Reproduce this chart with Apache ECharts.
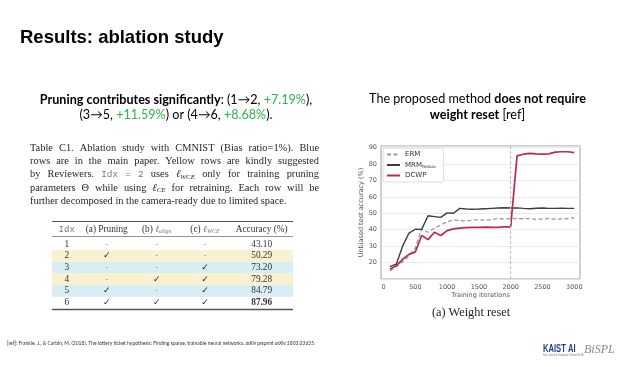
<!DOCTYPE html>
<html><head><meta charset="utf-8">
<script src="https://cdn.jsdelivr.net/npm/echarts@6/dist/echarts.min.js"></script>
<style>html,body{margin:0;padding:0;background:#fff}#c{width:638px;height:367px}</style>
</head><body><div id="c"></div>
<script>
// ---------- data ----------
const iterations = [100,200,300,400,500,600,700,800,900,1000,1100,1200,1300,1400,1500,1600,1700,1800,1900,2000,2100,2200,2300,2400,2500,2600,2700,2800,2900,3000];
const ermValues  = [15,17.5,20.5,24,29,40.5,38.5,41,43,44.8,46,45.5,45.3,46,46,45.8,46.2,46.8,46.5,46.8,46.8,46.7,46.8,46.3,46.5,46.8,46.4,46.6,46.8,47.3];
const mrmValues  = [17.5,19,30,38,40.3,40.2,48.5,48,47.5,50.3,50,53,52.6,52.5,52.6,52.8,53,53.2,53.4,53.2,53.3,53,52.8,53.1,53.2,53,53,53.1,53,53];
const dcwpValues = [16,18,22,25,26.5,36.5,34,38.5,36.5,39.5,40.5,41,41.3,41.4,41.5,41.6,41.4,41.5,41.7,41.8,85,86,86.5,86.2,86.1,86.2,87.3,87.5,87.5,87];
const seriesNames = ['ERM','MRM_Debias','DCWP'];
const xTickValues = [0,500,1000,1500,2000,2500,3000];
const yTickValues = [20,30,40,50,60,70,80,90];
const resetIteration = 2000;

const tableHeader   = ['Idx','(a) Pruning','(b) {it|ℓ}{sub|align}','(c) {it|ℓ}{sub|WCE}','Accuracy (%)'];
const tableIdx      = ['1','2','3','4','5','6'];
const tablePruning  = ['-','✓','-','-','✓','✓'];
const tableAlign    = ['-','-','-','✓','-','✓'];
const tableWce      = ['-','-','✓','✓','✓','✓'];
const tableAccuracy = ['43.10','50.29','73.20','79.28','84.79','87.96'];
const rowKinds      = ['none','yellow','blue','yellow','blue','none'];

const captionLines = [
  'Table C1. Ablation study with CMNIST (Bias ratio=1%). Blue',
  'rows are in the main paper. Yellow rows are kindly suggested',
  'by Reviewers. `Idx` `=` `2` uses ℓ_{WCE} only for training pruning',
  'parameters Θ while using ℓ_{CE} for retraining. Each row will be',
  'further decomposed in the camera-ready due to limited space.'
];

// ---------- helpers ----------
const chart = echarts.init(document.getElementById('c'));
const mctx = document.createElement('canvas').getContext('2d');
function fontOf(s){ return (s.fontStyle||'normal')+' '+(s.fontWeight||'normal')+' '+s.fontSize+'px '+s.fontFamily; }
function measure(t,s){ mctx.font = fontOf(s); return mctx.measureText(t).width; }
const capStyles = {
  rm:{fontSize:10.4, fontFamily:'"Liberation Serif"', fill:'#262626'},
  tt:{fontSize:9.4, fontFamily:'"Liberation Mono"', fill:'#7a7a7a'},
  it:{fontSize:10.4, fontFamily:'"Liberation Serif"', fontStyle:'italic', fill:'#262626'},
  sub:{fontSize:7, fontFamily:'"Liberation Serif"', fontStyle:'italic', fill:'#262626', dy:2.5}
};
function parseWord(w){
  if (w.startsWith('`')) return [{t:w.slice(1,-1), s:'tt'}];
  const m = w.match(/^(.*?)ℓ_\{(.+?)\}(.*)$/);
  if (m){ const p=[]; if(m[1])p.push({t:m[1],s:'rm'}); p.push({t:'ℓ',s:'it'}); p.push({t:m[2],s:'sub'}); if(m[3])p.push({t:m[3],s:'rm'}); return p; }
  return [{t:w,s:'rm'}];
}
const graphics = [];
function txt(x,y,text,style,extra){ graphics.push(Object.assign({type:'text', x:x, y:y, silent:true, style:Object.assign({text:text, verticalAlign:'middle'}, style)}, extra||{})); }

// title & headings
txt(20,38,'Results: ablation study',{fontSize:18.5,fontWeight:'bold',fontFamily:'"Liberation Sans"',fill:'#000'});
const HF = 12.6;
const headRich = {b:{fontWeight:'bold',fontSize:HF,fontFamily:'Lato',fill:'#000'}, g:{fontSize:HF,fontFamily:'Lato',fill:'#2db34f'}};
txt(176,100,'{b|Pruning contributes significantly}: (1→2, {g|+7.19%}),',{fontSize:HF,fontFamily:'Lato',fill:'#000',align:'center',rich:headRich});
txt(176,115,'(3→5, {g|+11.59%}) or (4→6, {g|+8.68%}).',{fontSize:HF,fontFamily:'Lato',fill:'#000',align:'center',rich:headRich});
txt(477.5,99,'The proposed method {b|does not require}',{fontSize:HF,fontFamily:'Lato',fill:'#000',align:'center',rich:headRich});
txt(477.5,114.5,'{b|weight reset} [ref]',{fontSize:HF,fontFamily:'Lato',fill:'#000',align:'center',rich:headRich});

// caption (justified)
const capX0 = 30, capW = 289, capY0 = 148.3, capStep = 13.2;
captionLines.forEach((line,li)=>{
  const words = line.split(/\s+/).map(parseWord);
  const widths = words.map(ps=>ps.reduce((a,p)=>a+measure(p.t,capStyles[p.s]),0));
  const sum = widths.reduce((a,b)=>a+b,0);
  const last = li===captionLines.length-1;
  const gap = last ? measure(' ',capStyles.rm) : (capW-sum)/(words.length-1);
  let x = capX0; const y = capY0 + li*capStep;
  words.forEach((ps,wi)=>{
    ps.forEach(p=>{
      const s = capStyles[p.s];
      txt(x, y+(s.dy||0), p.t, {fontSize:s.fontSize,fontFamily:s.fontFamily,fontStyle:s.fontStyle||'normal',fill:s.fill});
      x += measure(p.t,s);
    });
    x += gap;
  });
});

// table
const tX0 = 52, tX1 = 293, rowTop0 = 238.3, rowH = 11.7;
const colX = [66.7,106.7,156.7,205,261.7];
const bandColor = {yellow:'#fcf1cf', blue:'#d8edf4'};
tableIdx.forEach((v,i)=>{
  if (rowKinds[i]!=='none') graphics.push({type:'rect', silent:true, shape:{x:tX0,y:rowTop0+i*rowH,width:tX1-tX0,height:rowH}, style:{fill:bandColor[rowKinds[i]]}});
});
graphics.push({type:'line',silent:true,shape:{x1:tX0,y1:221.5,x2:tX1,y2:221.5},style:{stroke:'#555',lineWidth:1.2}});
graphics.push({type:'line',silent:true,shape:{x1:tX0,y1:236.5,x2:tX1,y2:236.5},style:{stroke:'#777',lineWidth:0.8}});
graphics.push({type:'line',silent:true,shape:{x1:tX0,y1:309.5,x2:tX1,y2:309.5},style:{stroke:'#555',lineWidth:1.5}});
const tRich = {it:{fontStyle:'italic',fontSize:9.5,fontFamily:'"Liberation Serif"',fill:'#777'}, sub:{fontStyle:'italic',fontSize:6,fontFamily:'"Liberation Serif"',fill:'#777',verticalAlign:'bottom',padding:[3,0,0,0]}};
tableHeader.forEach((h,ci)=>{
  if (ci===0) txt(colX[0],229.5,h,{fontSize:9,fontFamily:'"Liberation Mono"',fill:'#777',align:'center'});
  else txt(colX[ci],229.5,h,{fontSize:9.3,fontFamily:'"Liberation Serif"',fill:'#333',align:'center',rich:tRich});
});
const cellStyle = (t)=> t==='✓' ? {fontSize:9,fontFamily:'"DejaVu Sans"',fontWeight:'bold',fill:'#222',align:'center'} : (t==='-' ? {fontSize:9,fontFamily:'"Liberation Serif"',fill:'#999',align:'center'} : {fontSize:9.3,fontFamily:'"Liberation Serif"',fill:'#333',align:'center'});
tableIdx.forEach((v,i)=>{
  const y = rowTop0 + i*rowH + rowH/2;
  txt(colX[0],y,v,cellStyle(v));
  txt(colX[1],y,tablePruning[i],cellStyle(tablePruning[i]));
  txt(colX[2],y,tableAlign[i],cellStyle(tableAlign[i]));
  txt(colX[3],y,tableWce[i],cellStyle(tableWce[i]));
  const st = cellStyle(tableAccuracy[i]); if (i===tableIdx.length-1) st.fontWeight='bold';
  txt(colX[4],y,tableAccuracy[i],st);
});

// chart caption, footnote, logos
txt(471,312.7,'(a) Weight reset',{fontSize:12.3,fontFamily:'"Liberation Serif"',fill:'#222',align:'center'});
txt(7,343,'[ref]: Frankle, J., & Carbin, M. (2018). The lottery ticket hypothesis: Finding sparse, trainable neural networks. {i|arXiv preprint arXiv:1803.03635}.',
  {fontSize:5,fontFamily:'Lato',fill:'#333',rich:{i:{fontStyle:'italic',fontSize:5,fontFamily:'Lato',fill:'#333'}}});
txt(543,349,'KAIST AI',{fontSize:10,fontWeight:'bold',fontFamily:'"Liberation Sans"',fill:'#1d3c8c'},{scaleX:0.76});
txt(543,355.5,'Kim Jaechul Graduate School of AI',{fontSize:2.6,fontFamily:'"Liberation Sans"',fill:'#777'});
txt(584,349.5,'BiSPL',{fontSize:12,fontStyle:'italic',fontFamily:'"Liberation Serif"',fill:'#8a8a8a'});

// ---------- chart ----------
const pairs = v => iterations.map((x,i)=>[x,v[i]]);
const axisFont = {fontSize:6.5, color:'#555', fontFamily:'"DejaVu Sans"'};
chart.setOption({
  animation:false,
  grid:{left:381, top:146, right:58, bottom:88, show:true, borderColor:'#a0a0a0', borderWidth:1, backgroundColor:'#fff'},
  xAxis:{type:'value', min:-40, max:3090,
    name:'Training iterations', nameLocation:'middle', nameGap:13, nameTextStyle:axisFont,
    axisLine:{show:false}, axisTick:{show:false, customValues:xTickValues},
    axisLabel:Object.assign({customValues:xTickValues, margin:5, formatter:v=>String(v)}, axisFont), splitLine:{show:false}},
  yAxis:{type:'value', min:10, max:91, interval:10,
    name:'Unbiased test accuracy (%)', nameLocation:'middle', nameRotate:90, nameGap:15, nameTextStyle:axisFont,
    axisLine:{show:false}, axisTick:{show:false},
    axisLabel:Object.assign({margin:4, showMinLabel:false, showMaxLabel:false, formatter:v=>String(v)}, axisFont),
    splitLine:{show:true, lineStyle:{color:'#e6e6e6', width:0.8}}},
  legend:{orient:'vertical', left:383, top:148, itemWidth:13, itemHeight:6, itemGap:3.5,
    padding:[3,8,3,3], borderColor:'#dcdcdc', borderWidth:1, borderRadius:2, backgroundColor:'#fff',
    data:seriesNames, itemStyle:{opacity:0, borderWidth:0},
    textStyle:{fontSize:7, color:'#333', fontFamily:'"DejaVu Sans"',
      rich:{m:{fontSize:7,color:'#333',fontFamily:'"DejaVu Sans"'}, s:{fontSize:4,color:'#333',fontFamily:'"DejaVu Sans"',verticalAlign:'bottom',padding:[3,0,0,0]}}},
    formatter:n=> n==='MRM_Debias' ? '{m|MRM}{s|Debias}' : n},
  series:[
    {name:seriesNames[0], type:'line', data:pairs(ermValues), symbol:'none', z:2,
      lineStyle:{color:'#9a9a9a', width:1.3, type:[4,2.5]}, itemStyle:{color:'#9a9a9a'},
      markLine:{symbol:'none', silent:true, label:{show:false}, lineStyle:{color:'#bdbdbd', type:[3,2], width:1},
        data:[{xAxis:resetIteration}]}},
    {name:seriesNames[1], type:'line', data:pairs(mrmValues), symbol:'none', z:3,
      lineStyle:{color:'#3d3d3d', width:1.4}, itemStyle:{color:'#3d3d3d'}},
    {name:seriesNames[2], type:'line', data:pairs(dcwpValues), symbol:'none', z:4,
      lineStyle:{color:'#b92d48', width:1.7}, itemStyle:{color:'#b92d48'}}
  ],
  graphic:{elements:graphics}
});
</script></body></html>
